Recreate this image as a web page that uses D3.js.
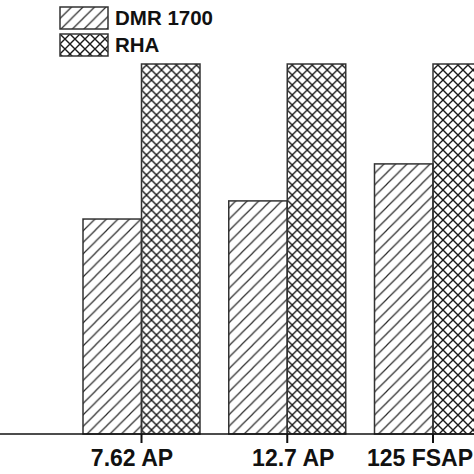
<!DOCTYPE html>
<html>
<head>
<meta charset="utf-8">
<script src="https://cdn.jsdelivr.net/npm/d3@7"></script>
<style>
body{margin:0;background:#fff;}
text{font-family:"Liberation Sans",Arial,sans-serif;font-weight:bold;fill:#111;}
</style>
</head>
<body>
<div class="chart"></div>
<script>
// categories and series
var categories=['7.62 AP','12.7 AP','125 FSAP'];
var series=['DMR 1700','RHA'];
// relative values (RHA = 1)
var dmr=[0.581,0.630,0.730];
var rha=[1,1,1];

var width=474,height=474;
var svg=d3.select('div.chart')
		.append('svg')
		.attr('width',width)
		.attr('height',height);

var defs=svg.append('defs');
//斜线
var p1=defs.append('pattern')
		.attr('id','hatch')
		.attr('patternUnits','userSpaceOnUse')
		.attr('width',11.5)
		.attr('height',11.5);
p1.append('path')
	.attr('d','M-2,2 l4,-4 M0,11.5 l11.5,-11.5 M9.5,13.5 l4,-4')
	.attr('stroke','#2a2a2a')
	.attr('stroke-width',1.2);
//网格
var p2=defs.append('pattern')
		.attr('id','cross')
		.attr('patternUnits','userSpaceOnUse')
		.attr('width',10)
		.attr('height',10);
p2.append('path')
	.attr('d','M0,0 L10,10 M10,0 L0,10')
	.attr('stroke','#1a1a1a')
	.attr('stroke-width',1.4);

var fills=['url(#hatch)','url(#cross)'];

var x0=d3.scalePoint()
		.domain(categories)
		.range([141.5,433]);
var x1=d3.scaleBand()
		.domain(series)
		.range([-58.5,58.5]);
var y=d3.scaleLinear()
		.domain([0,1])
		.range([434,64]);

var rows=categories.map(function(c,i){
	return {cat:c,values:[dmr[i],rha[i]]};
});

var groups=svg.selectAll('g.grp')
		.data(rows)
		.enter()
		.append('g')
		.attr('class','grp')
		.attr('transform',function(d){return 'translate('+x0(d.cat)+',0)';});
groups.selectAll('rect')
	.data(function(d){return d.values.map(function(v,j){return {s:series[j],v:v,j:j};});})
	.enter()
	.append('rect')
	.attr('x',function(d){return x1(d.s);})
	.attr('y',function(d){return y(d.v);})
	.attr('width',x1.bandwidth())
	.attr('height',function(d){return y(0)-y(d.v);})
	.attr('fill',function(d){return fills[d.j];})
	.attr('stroke','#333')
	.attr('stroke-width',1.5);

// x axis
var labelShift=[-9.5,6,-13]; //标签偏移
var axis=svg.append('g').attr('transform','translate(0,'+y(0)+')');
axis.append('line')
	.attr('x1',0).attr('x2',width)
	.attr('stroke','#111').attr('stroke-width',1.6);
axis.selectAll('line.tick')
	.data(categories)
	.enter()
	.append('line')
	.attr('class','tick')
	.attr('x1',function(d){return x0(d);})
	.attr('x2',function(d){return x0(d);})
	.attr('y1',0).attr('y2',9)
	.attr('stroke','#111').attr('stroke-width',2);
axis.selectAll('text')
	.data(categories)
	.enter()
	.append('text')
	.attr('x',function(d,i){return x0(d)+labelShift[i];})
	.attr('y',32)
	.attr('text-anchor','middle')
	.style('font-size','23px')
	.text(function(d){return d;});

// legend
var legend=svg.append('g').attr('transform','translate(60,7)');
var items=legend.selectAll('g')
		.data(series)
		.enter()
		.append('g')
		.attr('transform',function(d,i){return 'translate(0,'+(i*27)+')';});
items.append('rect')
	.attr('width',48)
	.attr('height',22)
	.attr('fill',function(d,i){return fills[i];})
	.attr('stroke','#333')
	.attr('stroke-width',1.5);
items.append('text')
	.attr('x',55)
	.attr('y',18)
	.style('font-size','20.5px')
	.text(function(d){return d;});
</script>
</body>
</html>
